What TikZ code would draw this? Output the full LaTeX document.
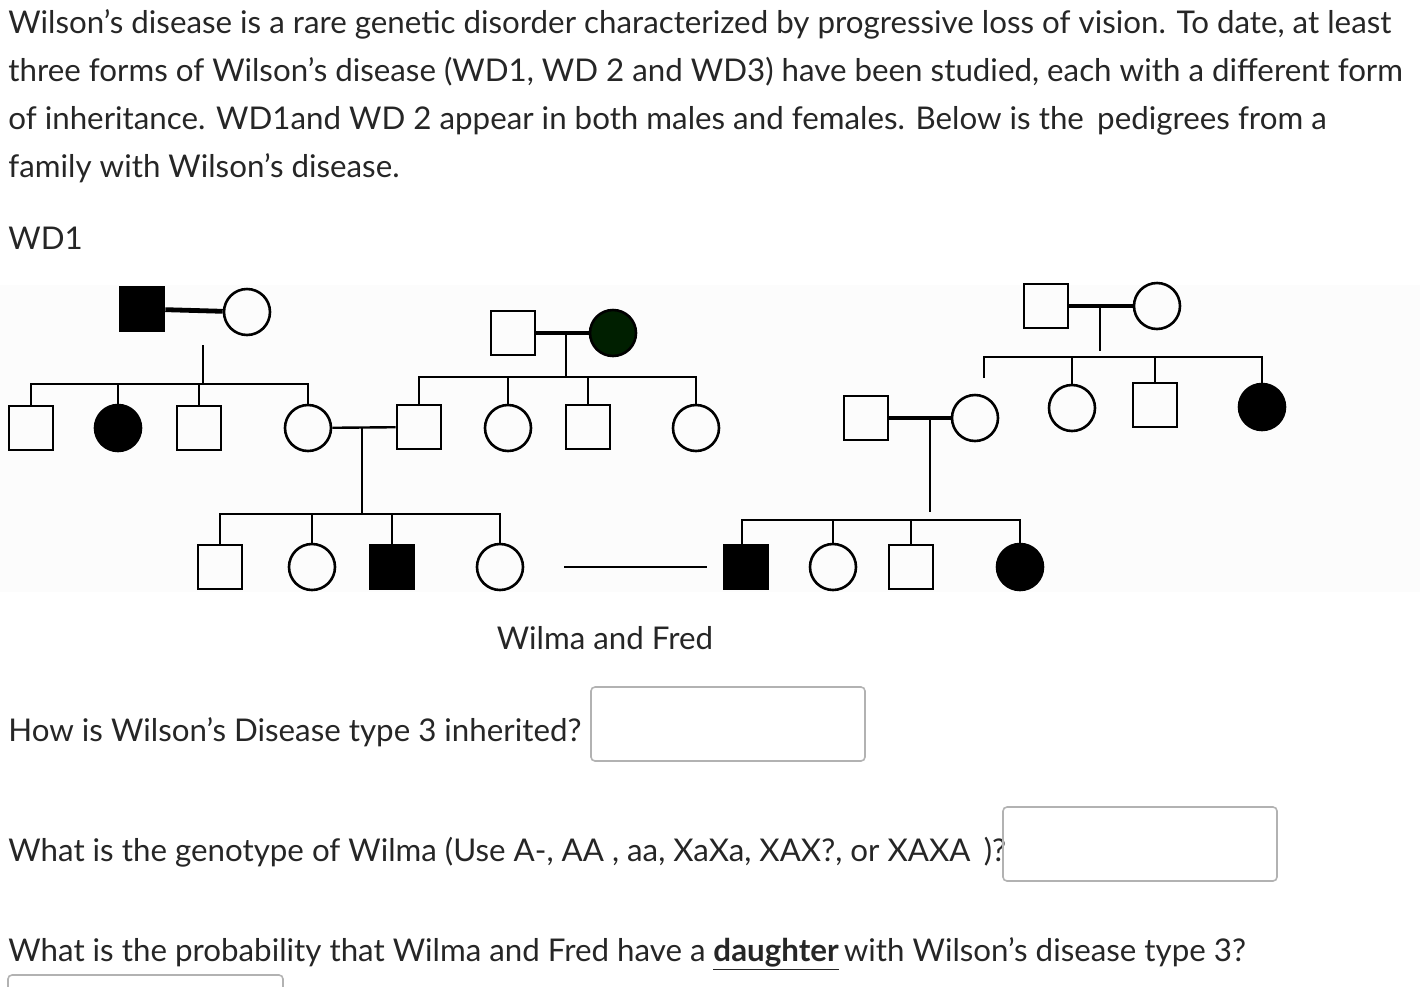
\documentclass[tikz,border=0pt]{standalone}
\usepackage{fontspec}
\setmainfont{Lato}
\newcommand\myaq{\symbol{"0027}}
\begin{document}
\begin{tikzpicture}[x=0.5pt,y=-0.5pt,
  txt/.style={anchor=base west,inner sep=0pt,font=\fontsize{15.65}{19}\selectfont,text=black!85},
  sq/.style={draw,line width=1.3pt,minimum width=22pt,minimum height=22pt,inner sep=0pt},
  ci/.style={draw,circle,line width=1.3pt,minimum size=23pt,inner sep=0pt},
  aff/.style={fill=black},
  ln/.style={line width=1.2pt},
  mar/.style={line width=2.4pt},
  abox/.style={draw=black!30,line width=0.8pt,rounded corners=2pt}]
\useasboundingbox (0,0) rectangle (1420,986);
\fill[black!1] (0,285) rectangle (1420,592);
% text
\node[txt] (t1) at (8,33) {Wilson’s disease is a rare genetic disorder characterized by progressive loss of vision. To date, at least};
\node[txt] (t2) at (8,81) {three forms of Wilson’s disease (WD1, WD 2 and WD3) have been studied, each with a different form};
\node[txt] (t3) at (8,129) {of inheritance. WD1and WD 2 appear in both males and females. Below is the\, pedigrees from a};
\node[txt] (t4) at (8,177) {family with Wilson\myaq s disease.};
\node[txt] (t5) at (8,249) {WD1};
\node[txt,anchor=base] (t6) at (605,649) {Wilma and Fred};
\node[txt] (q1) at (8,741) {How is Wilson\myaq s Disease type 3 inherited?};
\node[txt] (q2) at (8,861) {What is the genotype of Wilma (Use A-, AA , aa, XaXa, XAX?, or XAXA\, )?};
\node[txt] (q3) at (8,961) {What is the probability that Wilma and Fred have a \textbf{\underline{daughter}}\,with Wilson\myaq s disease type 3?};
\draw[abox] (591,687) rectangle (865,761);
\draw[abox] (1003,807) rectangle (1277,881);
\draw[abox] (8,975) rectangle (283,1000);
% left family gen1
\node[sq,aff] (a1) at (142,309) {};
\node[ci] (a2) at (247,312) {};
\draw[mar] (a1) -- (a2);
\coordinate (a12) at (203,345);
\draw[ln] (a12) -- (203,384);
\draw[ln] (31,406) |- (203,384) -| (308,406);
\node[sq] (b1) at (31,428) {};
\node[ci,aff] (b2) at (118,428) {};
\node[sq] (b3) at (199,428) {};
\node[ci] (b4) at (308,428) {};
\draw[ln] (118,384) -- (b2.north);
\draw[ln] (199,384) -- (b3.north);
% middle family gen1
\node[sq] (m1) at (513,333) {};
\node[ci,fill=black!80!green!60!black] (m2) at (613,333) {};
\draw[mar] (m1) -- (m2);
\draw[ln] (566,333) -- (566,377);
\draw[ln] (419,406) |- (566,377) -| (696,406);
\node[sq] (c1) at (419,427) {};
\node[ci] (c2) at (508,428) {};
\node[sq] (c3) at (588,427) {};
\node[ci] (c4) at (696,428) {};
\draw[ln] (508,377) -- (c2.north);
\draw[ln] (588,377) -- (c3.north);
% marriage b4-c1
\draw[ln] (b4) -- (c1);
\draw[ln] (362,428) -- (362,514);
\draw[ln] (220,545) |- (362,514) -| (500,545);
\node[sq] (d1) at (220,567) {};
\node[ci] (d2) at (312,567) {};
\node[sq,aff] (d3) at (392,567) {};
\node[ci] (wilma) at (500,567) {};
\draw[ln] (312,514) -- (d2.north);
\draw[ln] (392,514) -- (d3.north);
% right family gen1
\node[sq] (r1) at (1046,306) {};
\node[ci] (r2) at (1157,306) {};
\draw[mar] (r1) -- (r2);
\draw[ln] (1100,306) -- (1100,351);
\draw[ln] (984,378) |- (1100,357) -| (1262,385);
\node[sq] (e1) at (866,418) {};
\node[ci] (e2) at (975,418) {};
\node[ci] (e3) at (1072,408) {};
\node[sq] (e4) at (1155,405) {};
\node[ci,aff] (e5) at (1262,407) {};
\draw[ln] (1072,357) -- (e3.north);
\draw[ln] (1155,357) -- (e4.north);
\draw[mar] (e1) -- (e2);
\draw[ln] (930,418) -- (930,512);
\draw[ln] (742,545) |- (930,520) -| (1020,545);
\node[sq,aff] (fred) at (746,567) {};
\node[ci] (f2) at (833,567) {};
\node[sq] (f3) at (911,567) {};
\node[ci,aff] (f4) at (1020,567) {};
\draw[ln] (833,520) -- (f2.north);
\draw[ln] (911,520) -- (f3.north);
\draw[ln] ([xshift=20pt]wilma.east) -- ([xshift=-8pt]fred.west);
\end{tikzpicture}
\end{document}
